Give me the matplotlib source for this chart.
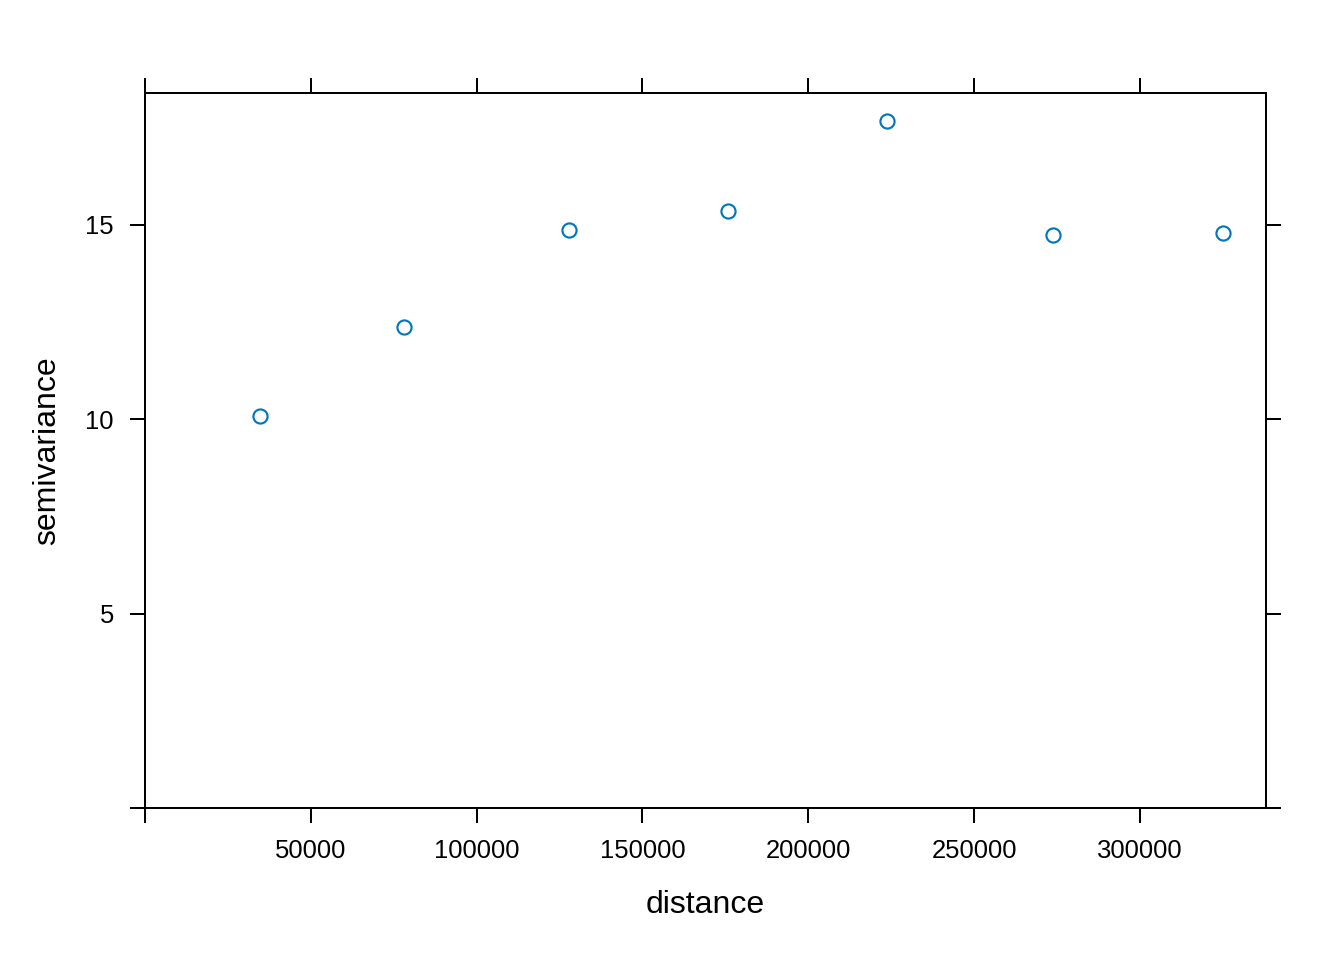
import matplotlib
matplotlib.use("Agg")
import matplotlib.pyplot as plt
import numpy as np

plt.rcParams['font.family'] = ['Liberation Sans', 'DejaVu Sans']

# sample variogram
dist = [34600, 78000, 127700, 175900, 223800, 273800, 325000]
gamma = [10.09, 12.38, 14.87, 15.36, 17.67, 14.75, 14.80]

xticks = [0, 50000, 100000, 150000, 200000, 250000, 300000]
xlabels = ["", "50000", "100000", "150000", "200000", "250000", "300000"]
yticks = [0, 5, 10, 15]
ylabels = ["", "5", "10", "15"]

fig = plt.figure(figsize=(7, 5), dpi=192)
ax = fig.add_axes([145/1344, 1 - 808/960, (1266-145)/1344, (808-93)/960])

ax.plot(dist, gamma, linestyle="none", marker="o", markersize=5.3,
        markerfacecolor="none", markeredgecolor="#0077BB", markeredgewidth=0.8)

ax.set_xlim(0, 338000)
ax.set_ylim(0, 18.39)

ax.set_xticks(xticks)
ax.set_xticklabels(xlabels)
ax.set_yticks(yticks)
ax.set_yticklabels(ylabels)
ax.tick_params(direction="out", length=5.8, width=0.75, labelsize=9.6,
               top=True, right=True, labeltop=False, labelright=False)
ax.tick_params(axis="x", pad=5.9)
ax.tick_params(axis="y", pad=5.9)
for s in ax.spines.values():
    s.set_linewidth(0.75)

ax.set_xlabel("distance", fontsize=12, labelpad=9.9)
ax.set_ylabel("semivariance", fontsize=12, labelpad=8.8)

fig.savefig("out.png", dpi=192)
